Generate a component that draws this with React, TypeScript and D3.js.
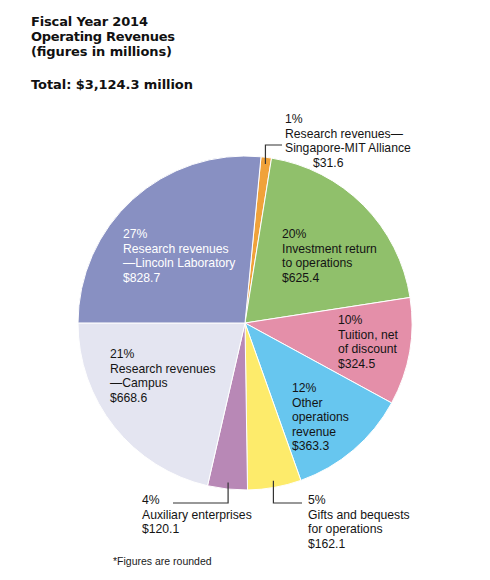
import React from 'react'
import * as d3 from 'd3'

// slices, clockwise from the top
const categories = [
  'Research revenues—Singapore-MIT Alliance',
  'Investment return to operations',
  'Tuition, net of discount',
  'Other operations revenue',
  'Gifts and bequests for operations',
  'Auxiliary enterprises',
  'Research revenues—Campus',
  'Research revenues—Lincoln Laboratory',
]
const values = [31.6, 625.4, 324.5, 363.3, 162.1, 120.1, 668.6, 828.7]
const percents = ['1%', '20%', '10%', '12%', '5%', '4%', '21%', '27%']
const valueLabels = ['$31.6', '$625.4', '$324.5', '$363.3', '$162.1', '$120.1', '$668.6', '$828.7']
const nameLines = [
  ['Research revenues—', 'Singapore-MIT Alliance'],
  ['Investment return', 'to operations'],
  ['Tuition, net', 'of discount'],
  ['Other', 'operations', 'revenue'],
  ['Gifts and bequests', 'for operations'],
  ['Auxiliary enterprises'],
  ['Research revenues', '—Campus'],
  ['Research revenues', '—Lincoln Laboratory'],
]
const colors = ['#f0a23a', '#90c06b', '#e48fa9', '#67c6ef', '#fdeb6b', '#b888b6', '#e4e5f1', '#8890c2']

const titleLines = ['Fiscal Year 2014', 'Operating Revenues', '(figures in millions)']
const totalText = 'Total: $3,124.3 million'
const footnote = '*Figures are rounded'

// measured widths of the Verdana heading lines in the original
const titleWidths = [117, 144, 141]
const totalWidth = 162

// label placement relative to the pie centre: [x, first baseline]
const labelPos: [number, number][] = [
  [40, -200], [37, -85], [93, 1], [47, 69], [63, 181], [-103, 181], [-135, 35], [-122, -85],
]
// leader lines: [slice index, elbow y, end x]
const leaders: [number, number, number][] = [
  [0, -178, 37],
  [4, 180, 57],
  [5, 180, -72],
]

const W = 490
const H = 580
const cx = 245
const cy = 323
const R = 167
const startAngle = (5.5 * Math.PI) / 180

export default function App() {
  const pie = d3
    .pie<number>()
    .sort(null)
    .value(d => d)
    .startAngle(startAngle)
    .endAngle(startAngle + Math.PI * 2)
  const arcs = pie(values)
  const arc = d3.arc<d3.PieArcDatum<number>>().innerRadius(0).outerRadius(R)
  const leaderArc = d3.arc<d3.PieArcDatum<number>>().innerRadius(R * 0.93).outerRadius(R * 0.99)
  const lh = 14.5

  return (
    <svg
      width={W}
      height={H}
      style={{ position: 'absolute', left: 0, top: 0, background: '#fff' }}
    >
      <g fontFamily="'DejaVu Sans', Verdana, sans-serif" fontWeight="bold" fontSize={13} fill="#111">
        {titleLines.map((t, i) => (
          <text key={t} x={31} y={26 + i * 15} textLength={titleWidths[i]} lengthAdjust="spacing">
            {t}
          </text>
        ))}
        <text x={31} y={89} textLength={totalWidth} lengthAdjust="spacing">{totalText}</text>
      </g>

      <g transform={`translate(${cx},${cy})`}>
        {arcs.map((a, i) => (
          <path key={categories[i]} d={arc(a) ?? ''} fill={colors[i]} stroke="#fff" strokeWidth={1} />
        ))}

        {leaders.map(([idx, ey, ex]) => {
          const [sx, sy] = leaderArc.centroid(arcs[idx])
          return (
            <polyline
              key={idx}
              points={`${sx},${sy} ${sx},${ey} ${ex},${ey}`}
              fill="none"
              stroke="#333"
              strokeWidth={1.2}
            />
          )
        })}

        <g fontFamily="'Liberation Sans', Arial, sans-serif" fontSize={12.2}>
          {categories.map((c, i) => {
            const [x, y] = labelPos[i]
            const lines = [percents[i], ...nameLines[i], valueLabels[i]]
            const fill = i === 7 ? '#fff' : '#141414'
            return (
              <text key={c} fill={fill}>
                {lines.map((l, j) => (
                  <tspan key={j} x={i === 0 && j === lines.length - 1 ? x + 28 : x} y={y + j * lh}>
                    {l}
                  </tspan>
                ))}
              </text>
            )
          })}
        </g>
      </g>

      <text x={113} y={565} fontFamily="'Liberation Sans', Arial, sans-serif" fontSize={10.5} fill="#1a1a1a">
        {footnote}
      </text>
    </svg>
  )
}
